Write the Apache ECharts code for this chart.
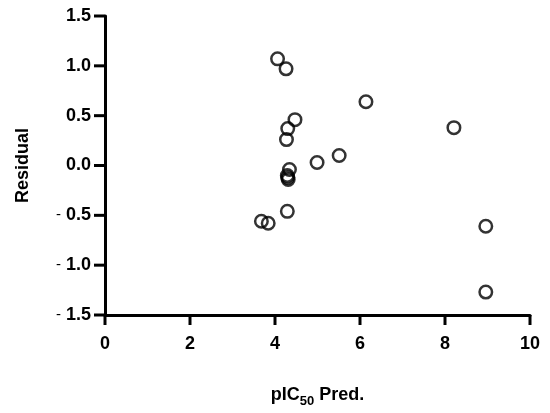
<!DOCTYPE html>
<html>
<head>
<meta charset="utf-8">
<script src="https://cdn.jsdelivr.net/npm/echarts@6/dist/echarts.min.js"></script>
<style>html,body{margin:0;padding:0;background:#fff}#c{width:550px;height:413px}</style>
</head>
<body>
<div id="c"></div>
<script>
var predX = [4.06, 4.26, 6.14, 8.21, 4.47, 4.30, 4.27, 5.51, 4.99, 4.34, 4.29, 4.30, 4.31, 4.29, 3.68, 3.84, 8.96, 8.96];
var residualY = [1.07, 0.97, 0.64, 0.38, 0.46, 0.37, 0.26, 0.10, 0.03, -0.04, -0.10, -0.12, -0.14, -0.46, -0.56, -0.58, -0.61, -1.27];
var xTicks = [0, 2, 4, 6, 8, 10];
var yTicks = [-1.5, -1.0, -0.5, 0.0, 0.5, 1.0, 1.5];

var xMin = xTicks[0], xMax = xTicks[xTicks.length - 1];
var yMin = yTicks[0], yMax = yTicks[yTicks.length - 1];
var pts = predX.map(function (x, i) { return [x, residualY[i]]; });
var font = 'Liberation Sans, Arial, sans-serif';

function tickSeries(data, horizontal, len) {
  return {
    type: 'custom', silent: true, clip: false, z: 5,
    coordinateSystem: 'cartesian2d',
    encode: {x: 0, y: 1},
    data: data,
    renderItem: function (params, api) {
      var p = api.coord([api.value(0), api.value(1)]);
      var shape = horizontal
        ? {x1: p[0] - len, y1: p[1], x2: p[0], y2: p[1]}
        : {x1: p[0], y1: p[1], x2: p[0], y2: p[1] + len};
      return {type: 'line', shape: shape, style: {stroke: '#000', fill: null, lineWidth: 3}};
    }
  };
}

var chart = echarts.init(document.getElementById('c'));
chart.setOption({
  animation: false,
  grid: {left: 105, right: 20, top: 16, bottom: 94},
  xAxis: {
    type: 'value', min: xMin, max: xMax, interval: 2,
    axisLine: {show: true, onZero: false, lineStyle: {color: '#000', width: 3}},
    axisTick: {show: false},
    splitLine: {show: false},
    axisLabel: {color: '#000', fontSize: 18, fontWeight: 'bold', fontFamily: font, margin: 20,
      formatter: function (v) { return String(v); }},
    name: 'pIC{sub|50} Pred.', nameLocation: 'middle', nameGap: 68,
    nameTextStyle: {color: '#000', fontSize: 18, fontWeight: 'bold', fontFamily: font,
      rich: {sub: {fontSize: 13, fontWeight: 'bold', fontFamily: font, color: '#000', verticalAlign: 'bottom', padding: [12, 0, 0, 0]}}}
  },
  yAxis: {
    type: 'value', min: yMin, max: yMax, interval: 0.5,
    axisLine: {show: true, onZero: false, lineStyle: {color: '#000', width: 3}},
    axisTick: {show: false},
    splitLine: {show: false},
    axisLabel: {color: '#000', fontSize: 18, fontWeight: 'bold', fontFamily: font, margin: 14,
      formatter: function (v) {
        var s = Math.abs(v).toFixed(1);
        return v < 0 ? '{m|-}' + s : s;
      },
      rich: {m: {fontSize: 15, fontWeight: 'normal', fontFamily: font, color: '#000', padding: [0, 5, 0, 0]}}},
    name: 'Residual', nameLocation: 'middle', nameGap: 73,
    nameTextStyle: {color: '#000', fontSize: 18, fontWeight: 'bold', fontFamily: font}
  },
  series: [
    tickSeries(xTicks.map(function (v) { return [v, yMin]; }), false, 10),
    tickSeries(yTicks.map(function (v) { return [xMin, v]; }), true, 11),
    {
      type: 'scatter', data: pts, symbol: 'circle', symbolSize: 12.5,
      itemStyle: {color: 'rgba(0,0,0,0)', borderColor: '#000', borderWidth: 2.5}
    }
  ]
});
</script>
</body>
</html>
